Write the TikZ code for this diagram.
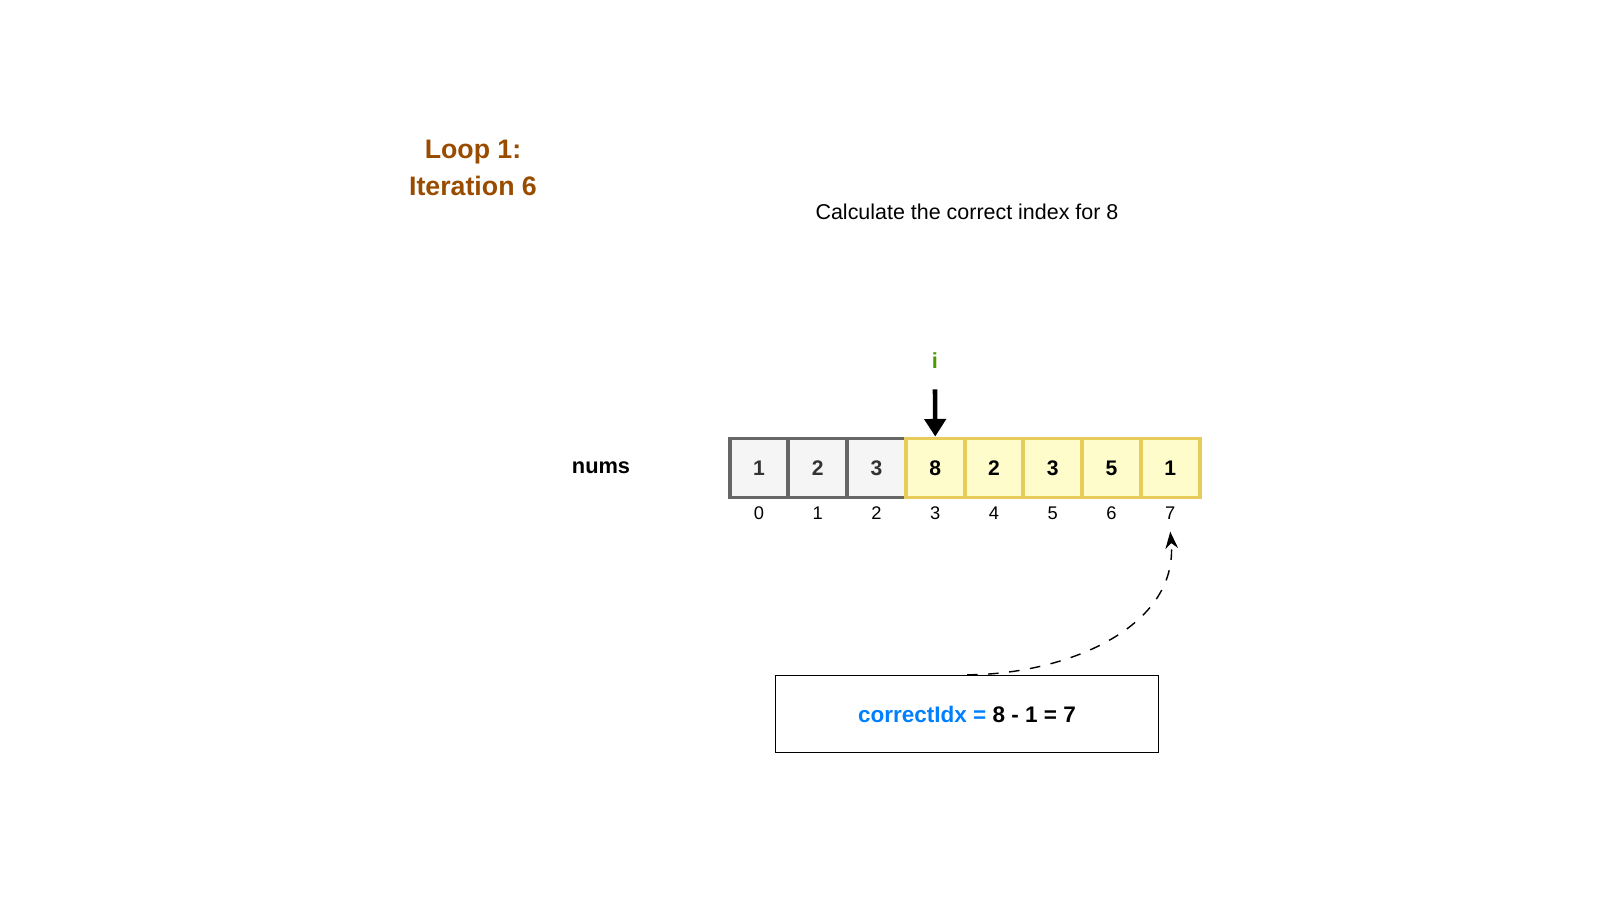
\documentclass[tikz,border=0pt]{standalone}
\usepackage{fontspec}
\setmainfont{Liberation Sans}
\usetikzlibrary{positioning, calc, arrows.meta}
\definecolor{titlebrown}{HTML}{994C00}
\definecolor{idxgreen}{HTML}{4D9900}
\definecolor{idxblue}{HTML}{007FFF}

\begin{document}
\begin{tikzpicture}[
    x=0.01cm, y=-0.01cm,
    % Styles des cellules du tableau
    donecell/.style={draw=black!60, fill=black!4, line width=1.1pt, minimum width=0.5875cm, minimum height=0.59cm, inner sep=0pt, font=\fontsize{6}{7}\selectfont\bfseries, text=black!80},
    todocell/.style={donecell, draw=yellow!50!brown!80, fill=yellow!20, text=black},
    idxlabel/.style={font=\fontsize{5.2}{6}\selectfont}
]
    \useasboundingbox (0,0) rectangle (1600,900);

    % Title and caption

    \node[text=titlebrown, font=\fontsize{7.6}{10.4}\selectfont\bfseries, align=center] (title) at (473,168) {Loop 1:\\Iteration 6};
    \node[font=\fontsize{6.1}{7}\selectfont] (caption) at (967,212) {Calculate the correct index for 8};

    % Array cells

    \node[font=\fontsize{6.2}{7}\selectfont\bfseries] (nums) at (601,468) {nums};

    %% Draw cells and their indices
    \foreach \val [count=\k from 0] in {1,2,3,8,2,3,5,1} {
        \ifnum\k<3
            \node[donecell] (C\k) at (759+58.75*\k,468) {\val};
        \else
            \node[todocell] (C\k) at (759+58.75*\k,468) {\val};
        \fi
        \node[idxlabel] (I\k) at (759+58.75*\k,513) {\k};
    }

    % Pointer

    \node[text=idxgreen, font=\fontsize{6.2}{7}\selectfont\bfseries] (ptr) at (935,361) {i};
    \draw[-{Triangle[length=5pt,width=6pt]}, line width=1.3pt] (ptr.south) ++(0,8) -- (C3.north);

    % Formula box

    \node[draw, minimum width=3.83cm, minimum height=0.77cm, font=\fontsize{6.4}{7}\selectfont\bfseries] (calc) at (967,714)
        {\textcolor{idxblue}{correctIdx =} 8 - 1 = 7};

    %% Dashed link to the target index
    \draw[dashed, ->, >=Stealth] (calc.north) to[out=0, in=-85] (I7.south);

\end{tikzpicture}
\end{document}
